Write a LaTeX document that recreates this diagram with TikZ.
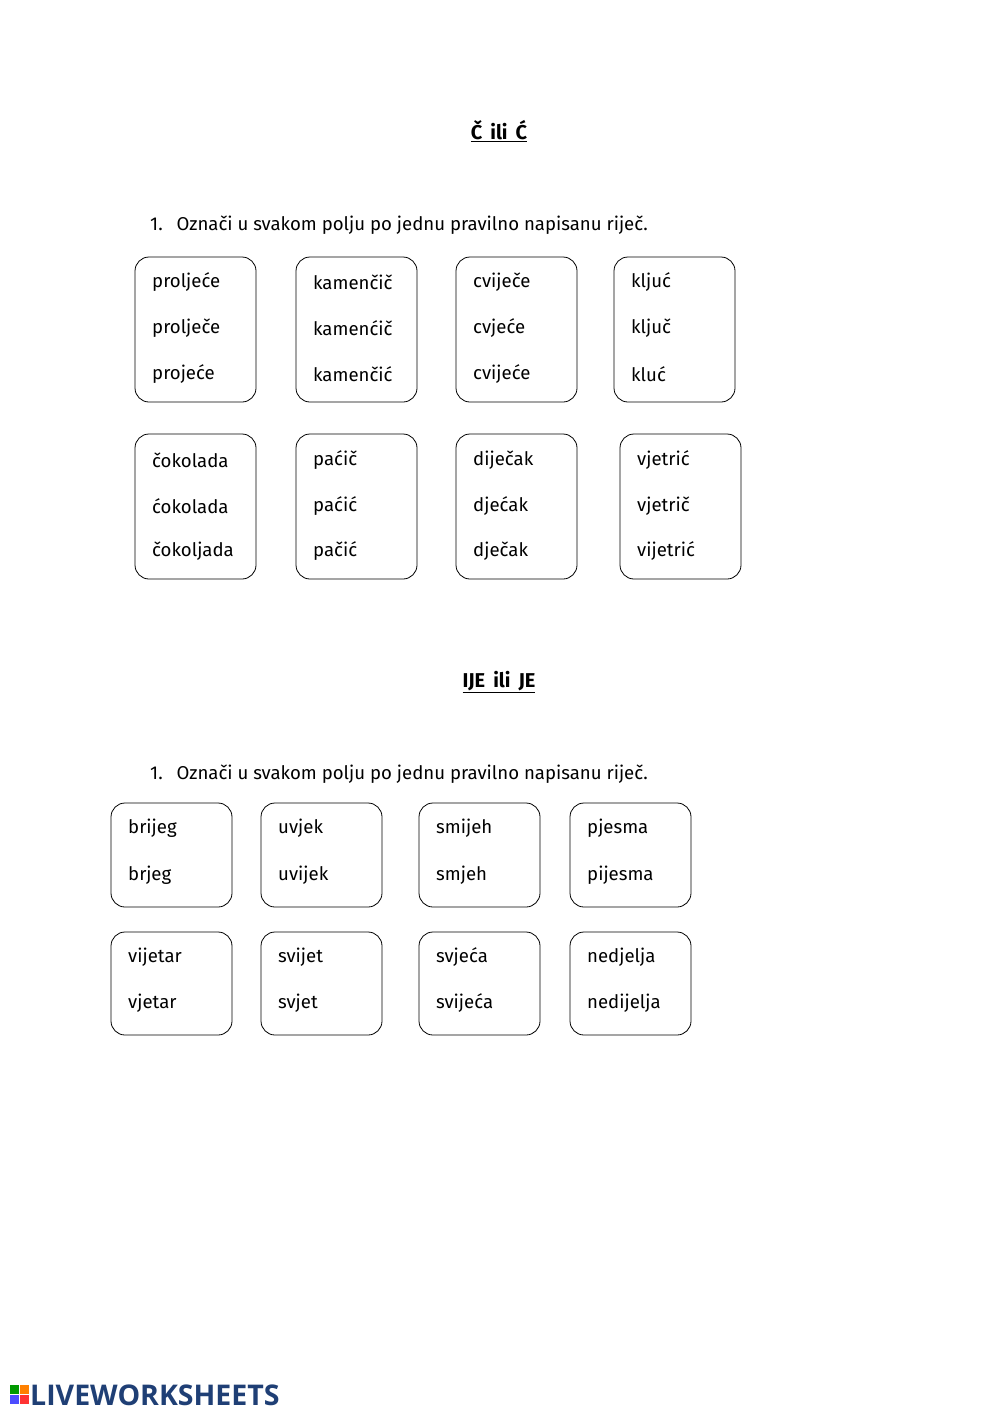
\documentclass[tikz,border=0pt]{standalone}
\usepackage{fontspec}
\setmainfont{Fira Sans}
\newfontfamily\logofont{Open Sans}
\definecolor{logoblue}{HTML}{1F3F75}
\begin{document}
\begin{tikzpicture}[x=1pt,y=-1pt,
  wbox/.style={draw,thick,rounded corners=14pt},
  word/.style={anchor=west,font=\fontsize{18.6}{20}\selectfont,inner sep=0pt},
  ttl/.style={font=\bfseries\fontsize{20}{22}\selectfont,inner sep=0pt}]
\useasboundingbox (0,0) rectangle (1000,1413);
\node[ttl] (t1) at (499,131) {\underline{Č\, ili\, Ć}};
\node[word] (i1) at (150,225) {1.\hspace{14pt}Označi u svakom polju po jednu pravilno napisanu riječ.};
\node[ttl] (t2) at (499,682) {\underline{IJE\, ili\, JE}};
\node[word] (i2) at (150,774) {1.\hspace{14pt}Označi u svakom polju po jednu pravilno napisanu riječ.};
\foreach \x/\a/\b/\c [count=\i] in {135/proljeće/prolječe/projeće,296/kamenčič/kamenćič/kamenčić,456/cviječe/cvjeće/cvijeće,614/kljuć/ključ/kluć}{
  \draw[wbox] (\x,257) rectangle ++(121,145);
  \node[word] (a\i) at (\x+17,282) {\a};
  \node[word] (b\i) at (\x+17,328) {\b};
  \node[word] (c\i) at (\x+17,374) {\c};
}
\foreach \x/\a/\b/\c [count=\i] in {135/čokolada/ćokolada/čokoljada,296/paćič/paćić/pačić,456/diječak/djećak/dječak,620/vjetrić/vjetrič/vijetrić}{
  \draw[wbox] (\x,434) rectangle ++(121,145);
  \node[word] (d\i) at (\x+17,460) {\a};
  \node[word] (e\i) at (\x+17,506) {\b};
  \node[word] (f\i) at (\x+17,551) {\c};
}
\foreach \x/\a/\b [count=\i] in {111/brijeg/brjeg,261/uvjek/uvijek,419/smijeh/smjeh,570/pjesma/pijesma}{
  \draw[wbox] (\x,803) rectangle ++(121,104);
  \node[word] (g\i) at (\x+17,828) {\a};
  \node[word] (h\i) at (\x+17,875) {\b};
}
\foreach \x/\a/\b [count=\i] in {111/vijetar/vjetar,261/svijet/svjet,419/svjeća/svijeća,570/nedjelja/nedijelja}{
  \draw[wbox] (\x,932) rectangle ++(121,103);
  \node[word] (k\i) at (\x+17,957) {\a};
  \node[word] (l\i) at (\x+17,1003) {\b};
}
\fill[green!60!black] (10,1385) rectangle ++(9,9);
\fill[orange] (20,1385) rectangle ++(9,9);
\fill[blue!70] (10,1395) rectangle ++(9,9);
\fill[red!80] (20,1395) rectangle ++(9,9);
\node[anchor=west,inner sep=0pt,text=logoblue,font=\logofont\bfseries\fontsize{28.5}{28}\selectfont] (logo) at (30,1395) {LIVEWORKSHEETS};
\end{tikzpicture}
\end{document}
